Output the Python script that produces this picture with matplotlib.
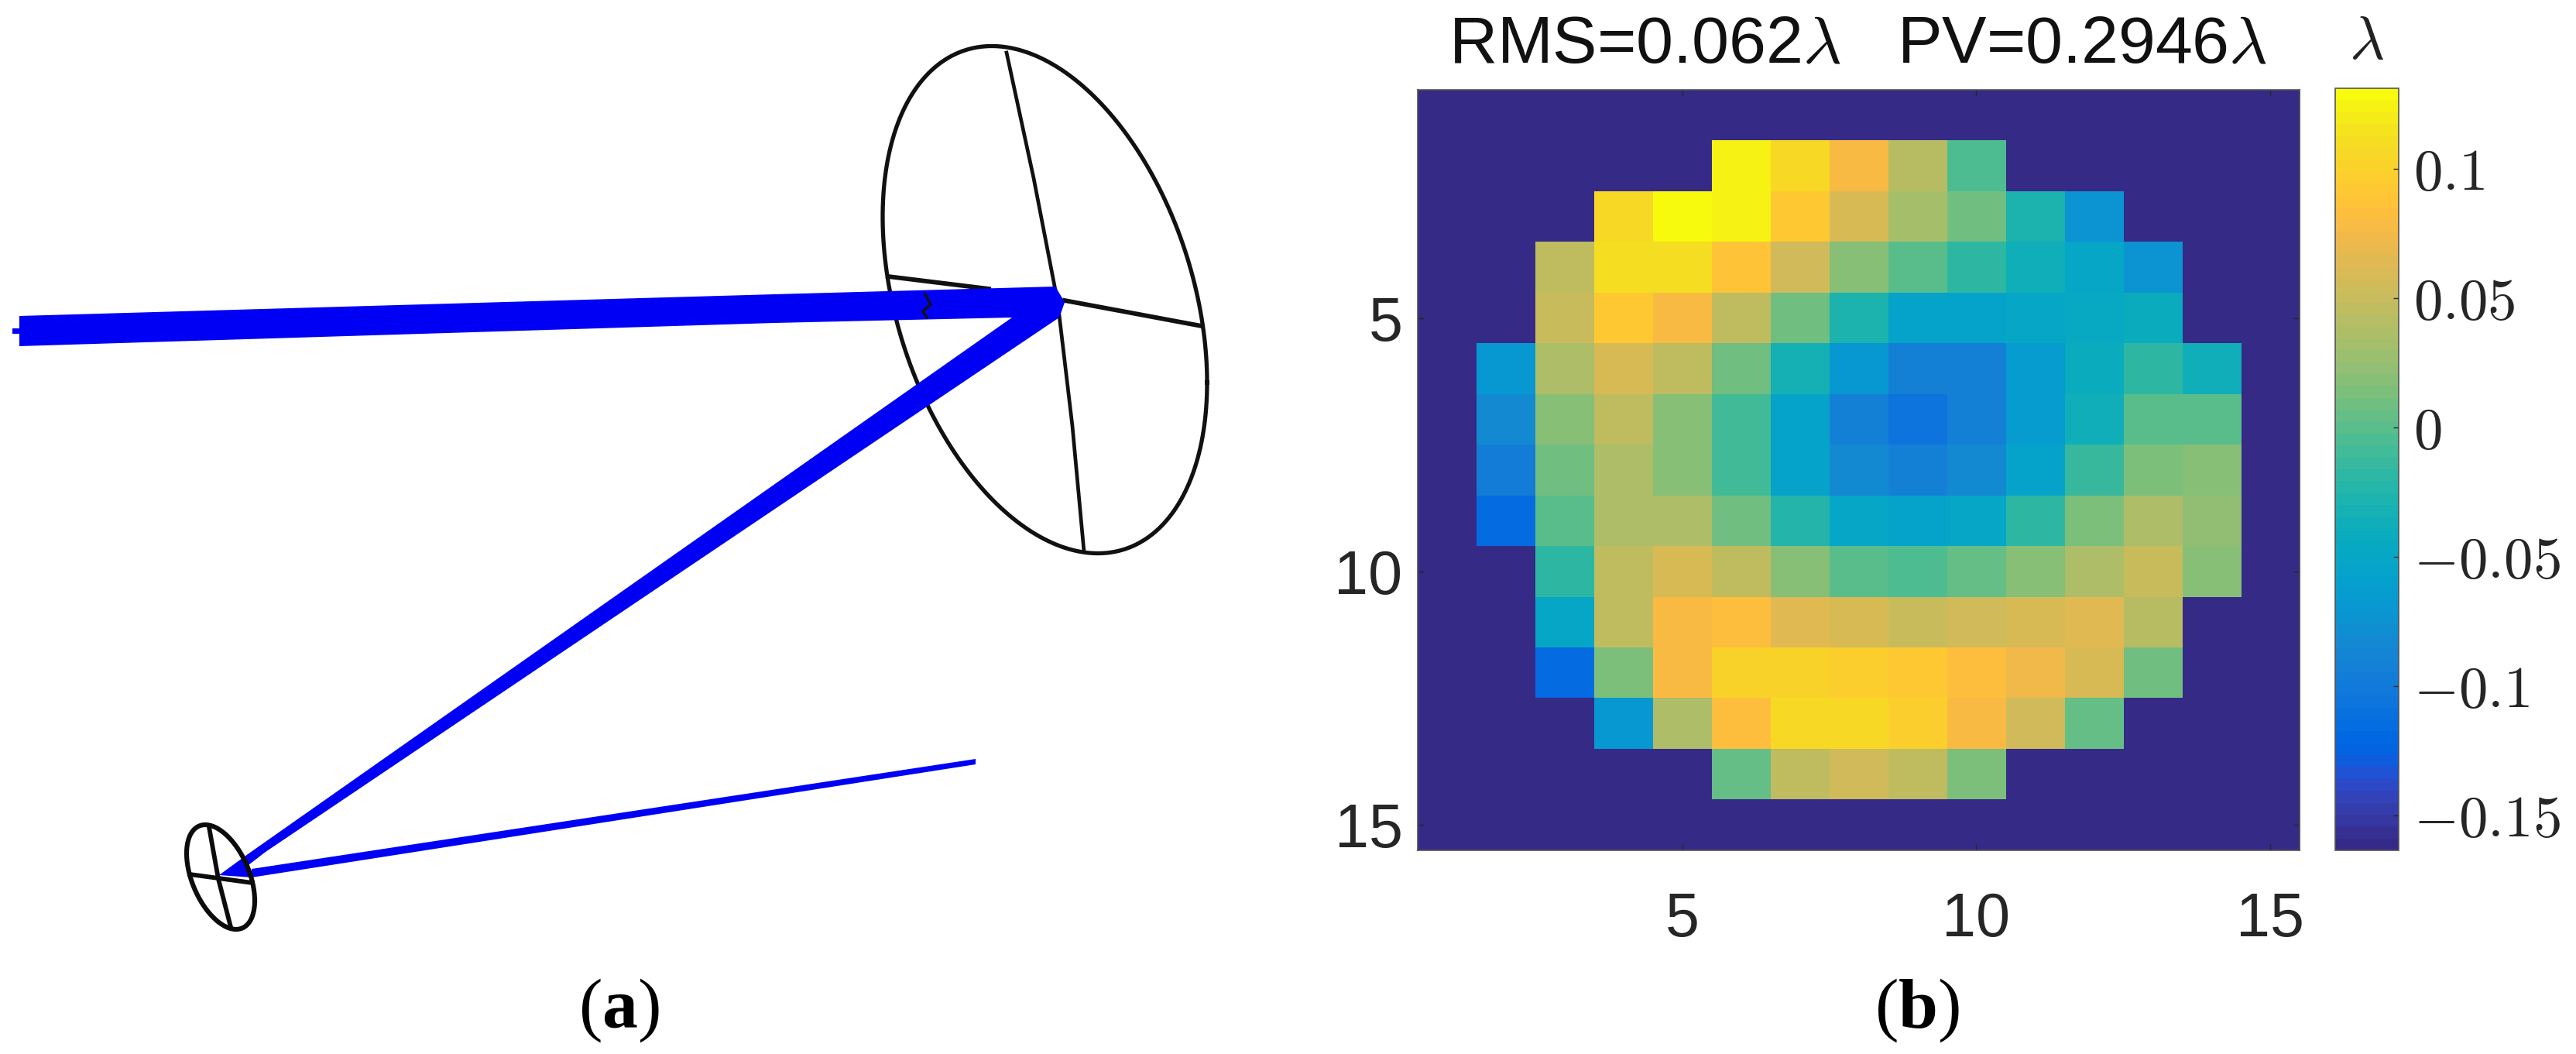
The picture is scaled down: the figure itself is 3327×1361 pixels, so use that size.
import numpy as np
import matplotlib
matplotlib.use("Agg")
import matplotlib.pyplot as plt
from matplotlib.colors import ListedColormap

plt.rcParams['mathtext.fontset'] = 'cm'
plt.rcParams['mathtext.rm'] = 'Liberation Serif'
plt.rcParams['mathtext.bf'] = 'Liberation Serif:bold'
plt.rcParams['font.family'] = ['Liberation Sans', 'DejaVu Sans']

W, H = 3327, 1361

# ---- data: wavefront error (in wavelengths), row by row; None = outside the aperture
BG = -0.1635
VMAX = 0.1311
row01 = [None]*15
row02 = [None]*5 + [0.125, 0.108, 0.078, 0.040, -0.004] + [None]*5
row03 = [None]*3 + [0.105, 0.131, 0.125, 0.090, 0.062, 0.030, 0.010, -0.030, -0.075] + [None]*3
row04 = [None]*2 + [0.045, 0.110, 0.110, 0.088, 0.055, 0.020, 0.000, -0.020, -0.035, -0.050, -0.075] + [None]*2
row05 = [None]*2 + [0.050, 0.090, 0.080, 0.045, 0.008, -0.030, -0.055, -0.055, -0.050, -0.045, -0.042] + [None]*2
row06 = [None] + [-0.070, 0.035, 0.062, 0.045, 0.008, -0.032, -0.070, -0.090, -0.090, -0.065, -0.042, -0.018, -0.035] + [None]
row07 = [None] + [-0.085, 0.020, 0.045, 0.020, -0.010, -0.055, -0.092, -0.105, -0.090, -0.065, -0.036, 0.000, 0.000] + [None]
row08 = [None] + [-0.097, 0.008, 0.035, 0.020, -0.010, -0.055, -0.082, -0.092, -0.085, -0.055, -0.014, 0.015, 0.020] + [None]
row09 = [None] + [-0.115, 0.000, 0.035, 0.035, 0.008, -0.025, -0.050, -0.055, -0.050, -0.020, 0.015, 0.035, 0.025] + [None]
row10 = [None]*2 + [-0.018, 0.045, 0.060, 0.045, 0.020, 0.000, -0.004, 0.005, 0.020, 0.035, 0.050, 0.020] + [None]
row11 = [None]*2 + [-0.050, 0.045, 0.080, 0.085, 0.065, 0.058, 0.050, 0.053, 0.058, 0.065, 0.040] + [None]*2
row12 = [None]*2 + [-0.115, 0.015, 0.080, 0.102, 0.100, 0.095, 0.090, 0.085, 0.075, 0.060, 0.010] + [None]*2
row13 = [None]*3 + [-0.068, 0.035, 0.085, 0.108, 0.108, 0.098, 0.077, 0.055, 0.006] + [None]*3
row14 = [None]*5 + [0.005, 0.045, 0.056, 0.045, 0.012] + [None]*5
row15 = [None]*15
rows = [row01, row02, row03, row04, row05, row06, row07, row08, row09, row10, row11, row12, row13, row14, row15]

x_ticks = [5, 10, 15]
y_ticks = [5, 10, 15]
cbar_ticks = [-0.15, -0.1, -0.05, 0, 0.05, 0.1]
cbar_labels = [r'$-0.15$', r'$-0.1$', r'$-0.05$', r'$0$', r'$0.05$', r'$0.1$']
title_text = 'RMS=0.062$\\lambda$   PV=0.2946$\\lambda$'

# ---- left diagram, in image pixels
beam_in_x = [25, 1000, 1363, 1375, 1368, 1307, 1000, 25]
beam_in_y = [408, 380, 370, 390, 410, 410, 417, 447]
beam_diag_x = [1307, 320, 283, 325, 317, 343, 1368, 1375]
beam_diag_y = [410, 1103, 1130, 1133, 1120, 1100, 410, 390]
beam_out_x = [325, 1260, 1260, 325]
beam_out_y = [1122, 980, 987, 1133]
nub_x = [19, 30]
nub_y = [427, 427]
big_major_x = [1300, 1335, 1366, 1385, 1400]
big_major_y = [68, 230, 390, 550, 712]
big_minor_left_x = [1147, 1277]
big_minor_left_y = [357, 373]
big_minor_right_x = [1375, 1552]
big_minor_right_y = [388, 421]
squiggle_x = [1195, 1202, 1192, 1197]
squiggle_y = [380, 393, 402, 410]
small_major_x = [270, 282, 298]
small_major_y = [1068, 1135, 1197]
small_minor_x = [245, 282, 326]
small_minor_y = [1129, 1134, 1140]

parula = [
 (0.2081,0.1663,0.5292),(0.2116,0.1898,0.5777),(0.2123,0.2138,0.6270),(0.2081,0.2386,0.6771),
 (0.1959,0.2645,0.7279),(0.1707,0.2919,0.7792),(0.1253,0.3242,0.8303),(0.0591,0.3598,0.8683),
 (0.0117,0.3875,0.8820),(0.0060,0.4086,0.8828),(0.0165,0.4266,0.8786),(0.0329,0.4430,0.8720),
 (0.0498,0.4586,0.8641),(0.0629,0.4737,0.8554),(0.0723,0.4887,0.8467),(0.0779,0.5040,0.8384),
 (0.0793,0.5200,0.8312),(0.0749,0.5375,0.8263),(0.0641,0.5570,0.8240),(0.0488,0.5772,0.8228),
 (0.0343,0.5966,0.8199),(0.0265,0.6137,0.8135),(0.0239,0.6287,0.8038),(0.0231,0.6418,0.7913),
 (0.0228,0.6535,0.7768),(0.0267,0.6642,0.7607),(0.0384,0.6743,0.7436),(0.0590,0.6838,0.7254),
 (0.0843,0.6928,0.7062),(0.1133,0.7015,0.6859),(0.1453,0.7098,0.6646),(0.1801,0.7177,0.6424),
 (0.2178,0.7250,0.6193),(0.2586,0.7317,0.5954),(0.3022,0.7376,0.5712),(0.3482,0.7424,0.5473),
 (0.3953,0.7459,0.5244),(0.4420,0.7481,0.5033),(0.4871,0.7491,0.4840),(0.5300,0.7491,0.4661),
 (0.5709,0.7485,0.4494),(0.6099,0.7473,0.4337),(0.6473,0.7456,0.4188),(0.6834,0.7435,0.4044),
 (0.7184,0.7411,0.3905),(0.7525,0.7384,0.3768),(0.7858,0.7356,0.3633),(0.8185,0.7327,0.3498),
 (0.8507,0.7299,0.3360),(0.8824,0.7274,0.3217),(0.9139,0.7258,0.3063),(0.9450,0.7261,0.2886),
 (0.9739,0.7314,0.2666),(0.9938,0.7455,0.2403),(0.9990,0.7653,0.2164),(0.9955,0.7861,0.1967),
 (0.9880,0.8066,0.1794),(0.9789,0.8271,0.1633),(0.9697,0.8481,0.1475),(0.9626,0.8705,0.1309),
 (0.9589,0.8949,0.1132),(0.9598,0.9218,0.0948),(0.9661,0.9514,0.0755),(0.9763,0.9831,0.0538)]
cmap = ListedColormap(parula)

fig = plt.figure(figsize=(W/100, H/100), dpi=100, facecolor='white')

def axes_px(l, t, r, b):
    return fig.add_axes([l/W, 1 - b/H, (r-l)/W, (b-t)/H])

# overlay in pixel coordinates
ov = fig.add_axes([0, 0, 1, 1])
ov.set_xlim(0, W); ov.set_ylim(H, 0); ov.axis('off')

def ellipse(cx, cy, a, b, cphi):
    t = np.linspace(0, 2*np.pi, 240)
    phi = np.arccos(cphi)
    return cx + a*np.cos(t), cy + b*np.cos(t - phi)

BLUE = '#0000f5'
ex, ey = ellipse(1349.5, 387, 209.5, 327.5, 0.327)
ov.plot(ex, ey, color='#111111', lw=3.8, zorder=2)
ov.plot(big_major_x, big_major_y, color='#111111', lw=3.4, zorder=2)
ov.plot(big_minor_left_x, big_minor_left_y, color='#111111', lw=4.2, zorder=2)
ov.plot(big_minor_right_x, big_minor_right_y, color='#111111', lw=4.2, zorder=2)
ov.fill(beam_in_x, beam_in_y, color=BLUE, lw=0, zorder=3)
ov.fill(beam_diag_x, beam_diag_y, color=BLUE, lw=0, zorder=3)
ov.fill(beam_out_x, beam_out_y, color=BLUE, lw=0, zorder=3)
ov.plot(nub_x, nub_y, color=BLUE, lw=5, zorder=3)
ov.plot(squiggle_x, squiggle_y, color='#111111', lw=2.4, zorder=4)
ex, ey = ellipse(285, 1132.5, 44, 67.5, 0.452)
ov.plot(ex, ey, color='#0c0c0c', lw=4.4, zorder=5)
ov.plot(small_major_x, small_major_y, color='#0c0c0c', lw=4.2, zorder=5)
ov.plot(small_minor_x, small_minor_y, color='#0c0c0c', lw=4.2, zorder=5)

# heat map
Z = np.array([[BG if v is None else v for v in r] for r in rows], dtype=float)
ax = axes_px(1831, 116, 2970, 1098)
im = ax.imshow(Z, cmap=cmap, vmin=BG, vmax=VMAX, origin='upper', aspect='auto',
               interpolation='nearest', extent=(0.5, 15.5, 15.5, 0.5))
ax.set_xticks(x_ticks); ax.set_yticks(y_ticks)
ax.tick_params(direction='in', length=5.5, width=1, color='#262626', labelcolor='#262626',
               labelsize=57, top=True, right=True, pad=14)
ax.tick_params(axis='x', pad=38)
for s in ax.spines.values():
    s.set_color('#555555'); s.set_linewidth(1.2)

# colour bar
cax = axes_px(3016, 114, 3098, 1098)
cb = fig.colorbar(im, cax=cax)
cb.set_ticks(cbar_ticks)
cb.set_ticklabels(cbar_labels)
cax.tick_params(direction='in', length=5, width=1, color='#262626', labelcolor='#262626',
                labelsize=54, pad=14)
cb.outline.set_edgecolor('#555555'); cb.outline.set_linewidth(1.2)

# texts
ov.text(2400, 80, title_text, fontsize=62, ha='center', va='baseline', color='#111111', zorder=6)
ov.text(3056, 76, r'$\lambda$', fontsize=56, ha='center', va='baseline', color='#222222', zorder=6)
ov.text(799, 1327, r'$\mathrm{(}\mathbf{a}\mathrm{)}$', fontsize=66, ha='center', va='baseline',
        math_fontfamily='custom', color='black', zorder=6)
ov.text(2476, 1327, r'$\mathrm{(}\mathbf{b}\mathrm{)}$', fontsize=66, ha='center', va='baseline',
        math_fontfamily='custom', color='black', zorder=6)

fig.savefig('out.png', dpi=100)
